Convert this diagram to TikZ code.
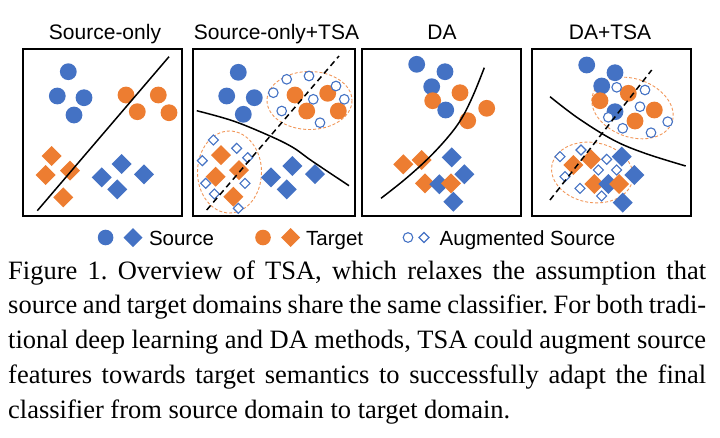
\documentclass[tikz,border=0pt]{standalone}
\usepackage{fontspec}
\setmainfont{Liberation Serif}
\newfontfamily\arialf{Liberation Sans}
\frenchspacing
\definecolor{sblue}{HTML}{4472C4}
\definecolor{torange}{HTML}{ED7D31}
\newcommand\ptbc[2]{\fill[sblue] (#1,#2) circle[radius=8.4];}
\newcommand\ptoc[2]{\fill[torange] (#1,#2) circle[radius=8.4];}
\newcommand\pthc[2]{\draw[sblue,fill=white,line width=1.1pt] (#1,#2) circle[radius=4.8];}
\newcommand\ptbd[2]{\fill[sblue,shift={(#1,#2)}] (-10,0)--(0,-10)--(10,0)--(0,10)--cycle;}
\newcommand\ptod[2]{\fill[torange,shift={(#1,#2)}] (-10,0)--(0,-10)--(10,0)--(0,10)--cycle;}
\newcommand\pthd[2]{\draw[sblue,fill=white,line width=1.1pt,shift={(#1,#2)}] (-5,0)--(0,-5)--(5,0)--(0,5)--cycle;}
\tikzset{
  panelbox/.style={draw=black,line width=1.8pt},
  bound/.style={black,line width=1.5pt},
  dbound/.style={black,line width=1.5pt,dash pattern=on 6pt off 4pt},
  cloud/.style={torange!80,line width=0.9pt,dash pattern=on 3pt off 2pt},
  ttl/.style={anchor=base,inner sep=0,font=\arialf\fontsize{21}{25}\selectfont},
  lgd/.style={anchor=base west,inner sep=0,font=\arialf\fontsize{20.5}{24}\selectfont},
  capline/.style={anchor=base west,inner sep=0,font=\fontsize{26.5}{31}\selectfont}
}
\begin{document}
\begin{tikzpicture}[x=1pt,y=-1pt]
\useasboundingbox (0,0) rectangle (720,437);
% titles
\node[ttl] (t1) at (105,39.5) {Source-only};
\node[ttl] (t2) at (276.5,39.5) {Source-only+TSA};
\node[ttl] (t3) at (442,39.5) {DA};
\node[ttl] (t4) at (610,39.5) {DA+TSA};
% ---------- panel 1
\ptbc{68.3}{71.7}\ptbc{57.3}{96}\ptbc{84}{97.7}\ptbc{74}{115}
\ptoc{126}{95}\ptoc{158.3}{95}\ptoc{137.3}{111.7}\ptoc{169}{112.7}
\ptod{51.7}{156}\ptod{45.7}{175}\ptod{70}{170.7}\ptod{63.3}{197.3}
\ptbd{121.7}{164}\ptbd{101.7}{177.3}\ptbd{144}{174.3}\ptbd{117.3}{189.3}
\draw[bound] (37.3,210.7) -- (169,56.7);
\draw[panelbox] (23,49) rectangle (182,216);
% ---------- panel 2
\draw[cloud] (309.5,100.5) ellipse[x radius=42.5,y radius=29];
\draw[cloud] (229.5,172) ellipse[x radius=32,y radius=41];
\ptbc{238.3}{72.3}\ptbc{226.7}{96}\ptbc{254.3}{97.7}\ptbc{243.3}{114.3}
\ptoc{295}{95}\ptoc{327.7}{93.3}\ptoc{306.7}{111}\ptoc{338.3}{111}
\pthc{286.7}{79.3}\pthc{309}{76}\pthc{273.3}{92.7}\pthc{336}{86}
\pthc{313.3}{99.3}\pthc{344.3}{99.3}\pthc{281.7}{111}\pthc{320}{122.7}
\ptod{221}{155}\ptod{239}{170}\ptod{215.7}{176.7}\ptod{233.3}{196.7}
\pthd{213.3}{140}\pthd{236.7}{148.3}\pthd{202.3}{160.7}\pthd{247.7}{157.7}
\pthd{205.7}{183.3}\pthd{245}{183.3}\pthd{214.3}{194}\pthd{238.3}{208.3}
\ptbd{292.3}{166}\ptbd{271}{177.3}\ptbd{315}{174}\ptbd{286.7}{189.3}
\draw[dbound] (206.7,210) -- (339,56);
\draw[bound] plot[smooth,tension=0.6] coordinates {(196.7,110.7) (233.3,121) (270,136) (293,147.5) (312,161) (349,185.7)};
\draw[panelbox] (193,49) rectangle (355,216);
% ---------- panel 3
\ptbc{416.7}{64.3}\ptbc{445}{71.7}\ptbc{431.7}{86.7}
\ptoc{432.7}{100.7}
\ptbc{445.7}{110}
\ptoc{460}{92.7}\ptoc{486.7}{108.3}\ptoc{467.7}{120.7}
\ptod{403.3}{164.3}\ptod{421.7}{160}\ptod{425}{183.3}
\ptbd{451.7}{157.3}\ptbd{464.3}{174.3}\ptbd{439.3}{184.3}\ptbd{453.3}{201.7}
\ptod{451}{183.3}
\draw[bound] plot[smooth,tension=0.6] coordinates {(381,198.3) (405,179.3) (428.3,158.3) (448.3,136.7) (461.7,118.3) (473.3,95) (484.3,67.7)};
\draw[panelbox] (362,49) rectangle (521,216);
% ---------- panel 4
\draw[cloud] (632.5,108) ellipse[x radius=42,y radius=29,rotate=-20];
\draw[cloud] (592.3,172.5) ellipse[x radius=41,y radius=30,rotate=-10];
\ptbc{586.7}{65}\ptbc{615}{72.7}\ptbc{601.7}{86}
\ptoc{600}{100.7}
\ptbc{615}{111.7}
\ptoc{628.3}{93.3}\ptoc{654.3}{110}\ptoc{635}{121}
\pthc{616.7}{87.3}\pthc{645}{90}\pthc{640}{106.7}\pthc{608.3}{117.3}
\pthc{622.7}{128.3}\pthc{667.7}{121.7}\pthc{651}{132.7}
\ptod{573.3}{165}\ptod{591}{159.3}\ptod{594.3}{184}
\ptbd{621.7}{156.7}\ptbd{634.3}{175}\ptbd{608.3}{184}\ptbd{622.7}{202.7}
\ptod{619}{184}
\pthd{560}{156.7}\pthd{581}{150}\pthd{606.7}{159.3}\pthd{565}{176.7}
\pthd{598.3}{170}\pthd{616.7}{170}\pthd{580}{188.3}\pthd{601.7}{196}
\draw[dbound] (550,200) -- (651.7,70);
\draw[bound] plot[smooth,tension=0.6] coordinates {(550,96.7) (578.3,118.3) (613.3,140) (645,153.3) (685.7,166)};
\draw[panelbox] (532,49) rectangle (691,216);
% ---------- legend
\fill[sblue] (105.6,237.5) circle[radius=7.8];
\fill[sblue,shift={(133,237.5)}] (-9.5,0)--(0,-9.5)--(9.5,0)--(0,9.5)--cycle;
\node[lgd] (ls) at (148.8,245) {Source};
\fill[torange] (263,237.5) circle[radius=7.8];
\fill[torange,shift={(290.7,237.5)}] (-9.5,0)--(0,-9.5)--(9.5,0)--(0,9.5)--cycle;
\node[lgd] (lt) at (306,245) {Target};
\draw[sblue,line width=1.1pt] (408,237.5) circle[radius=4.8];
\draw[sblue,line width=1.1pt,shift={(424,237.5)}] (-5,0)--(0,-5)--(5,0)--(0,5)--cycle;
\node[lgd] (la) at (439.5,245) {Augmented Source};
% ---------- caption
\node[capline] (c1) at (8,279) {\hbox to 698pt{Figure 1. Overview of TSA, which relaxes the assumption that}};
\node[capline] (c2) at (8,313.75) {\hbox to 698pt{source and target domains share the same classifier. For both tradi-}};
\node[capline] (c3) at (8,348.5) {\hbox to 698pt{tional deep learning and DA methods, TSA could augment source}};
\node[capline] (c4) at (8,383.25) {\hbox to 698pt{features towards target semantics to successfully adapt the final}};
\node[capline] (c5) at (8,418) {classifier from source domain to target domain.};
\end{tikzpicture}
\end{document}
